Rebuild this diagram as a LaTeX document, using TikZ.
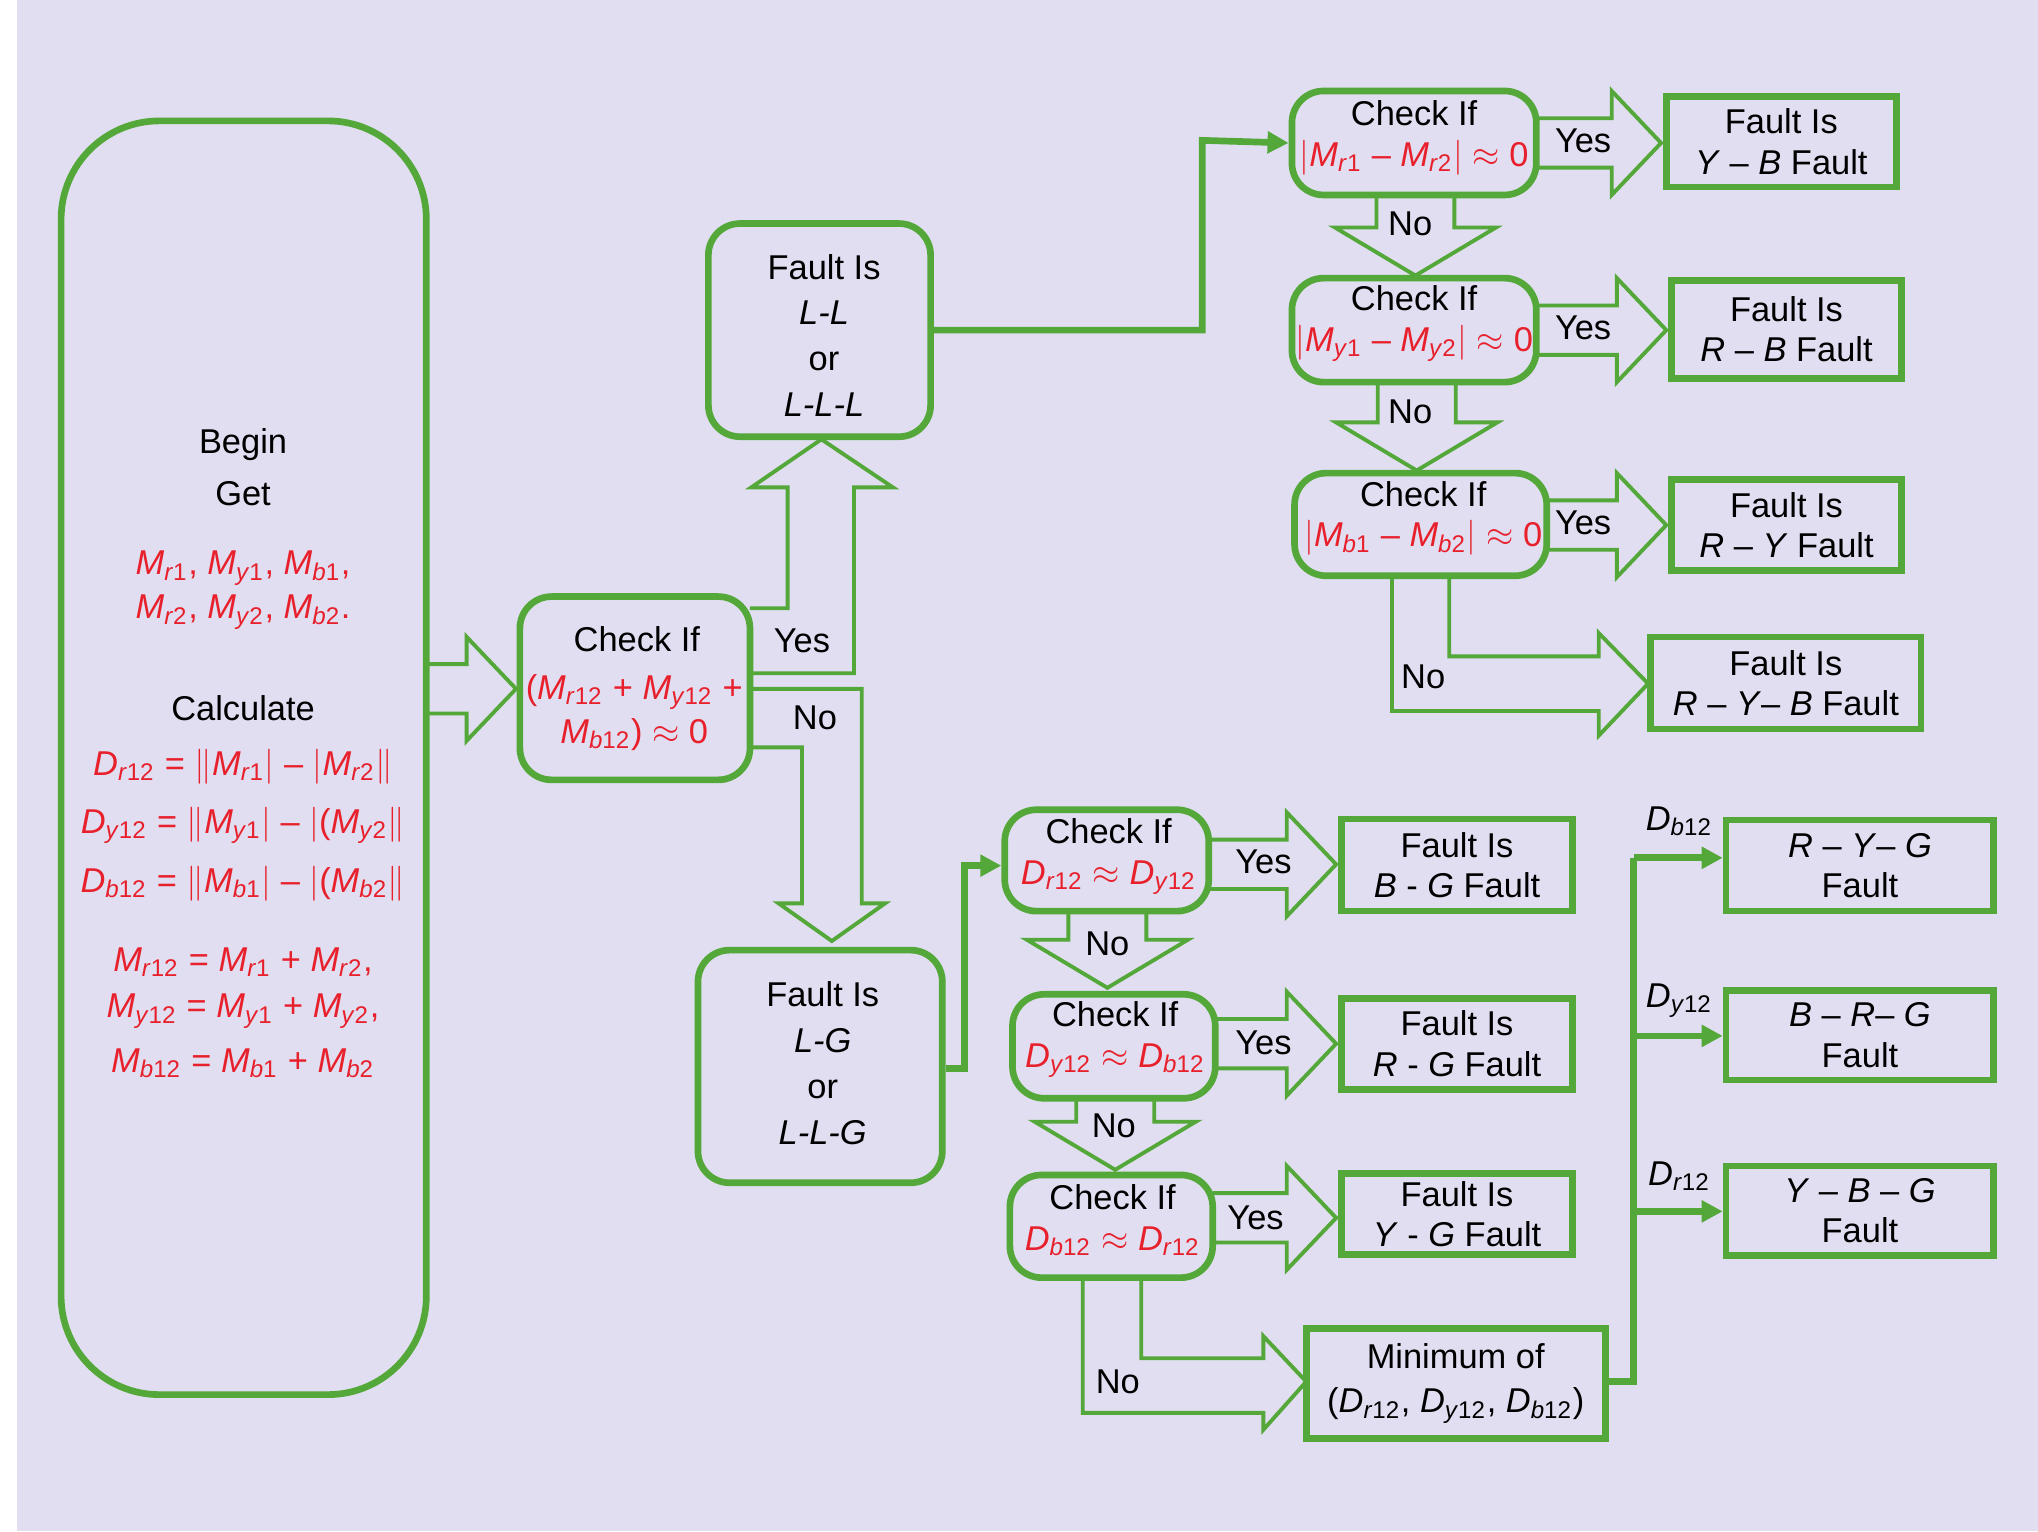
\documentclass[tikz,border=0pt]{standalone}
\usepackage{fontspec}
\setmainfont{Liberation Sans}
\usetikzlibrary{arrows.meta}

\definecolor{bgl}{RGB}{224,222,240}
\definecolor{grn}{RGB}{84,168,58}
\definecolor{rd}{RGB}{232,32,44}

\newcommand\V[3]{\textit{#1}\textsubscript{\textit{#2}#3}}
\newcommand\R[1]{\textcolor{rd}{#1}}

\tikzset{
  every node/.style={font=\fontsize{9.8}{11.5}\selectfont, inner sep=0pt},
  box/.style={draw=grn, line width=1.9pt, rounded corners=9pt, align=center},
  res/.style={draw=grn, line width=1.9pt, align=center},
  hol/.style={draw=grn, line width=1.1pt, line join=miter},
  con/.style={draw=grn, line width=1.9pt, -{Triangle[length=6pt,width=6pt]}},
}

% hollow arrow to the right: start x, tip x, centre y
\newcommand\yesarrow[3]{\draw[hol] (#1,#3-19) -- (#2-38,#3-19) -- (#2-38,#3-40) -- (#2,#3)
  -- (#2-38,#3+40) -- (#2-38,#3+19) -- (#1,#3+19);}
% hollow arrow downwards: centre x, start y, tip y
\newcommand\noarrow[3]{\draw[hol] (#1-30,#2) -- (#1-30,#3-37) -- (#1-62,#3-37) -- (#1,#3)
  -- (#1+62,#3-37) -- (#1+30,#3-37) -- (#1+30,#2);}

\begin{document}
\begin{tikzpicture}[x=0.013cm, y=-0.013cm]

    % background
    \fill[white] (0,0) rectangle (1568,1178);
    \fill[bgl] (13,0) rectangle (1568,1178);

    % left column
    \node[box, rounded corners=28pt, minimum width=281*0.013cm, minimum height=980*0.013cm] (start) at (187.5,583) {};
    \node at (187,342) {Begin};
    \node at (187,380) {Get};
    \node[align=center, text=rd] at (187,454) {\V{M}{r}{1}, \V{M}{y}{1}, \V{M}{b}{1},\\[1pt] \V{M}{r}{2}, \V{M}{y}{2}, \V{M}{b}{2}.};
    \node at (187,545) {Calculate};
    \node[text=rd] at (187,590) {\V{D}{r}{12} = $\|$\V{M}{r}{1}$|$ -- $|$\V{M}{r}{2}$\|$};
    \node[text=rd] at (187,635) {\V{D}{y}{12} = $\|$\V{M}{y}{1}$|$ -- $|$(\V{M}{y}{2}$\|$};
    \node[text=rd] at (187,680) {\V{D}{b}{12} = $\|$\V{M}{b}{1}$|$ -- $|$(\V{M}{b}{2}$\|$};
    \node[text=rd] at (187,740) {\V{M}{r}{12} = \V{M}{r}{1} + \V{M}{r}{2},};
    \node[text=rd] at (187,778) {\V{M}{y}{12} = \V{M}{y}{1} + \V{M}{y}{2},};
    \node[text=rd] at (187,818) {\V{M}{b}{12} = \V{M}{b}{1} + \V{M}{b}{2}};

    \yesarrow{330}{397}{530}

    % first check
    \node[box, minimum width=177*0.013cm, minimum height=141*0.013cm] (chk) at (488.5,529.5) {};
    \node at (490,492) {Check If};
    \node[align=center, text=rd] at (488,548) {(\V{M}{r}{12} + \V{M}{y}{12} +\\[1pt] \V{M}{b}{12}) $\approx$ 0};

    \node[box, minimum width=171*0.013cm, minimum height=164*0.013cm] (ll) at (630.5,254) {};
    \node[align=center] at (634,258) {Fault Is\\[1.5pt] \textit{L-L}\\[1.5pt] or\\[1.5pt] \textit{L-L-L}};
    \node[box, minimum width=188*0.013cm, minimum height=179*0.013cm] (lg) at (631,820.5) {};
    \node[align=center] at (633,818) {Fault Is\\[1.5pt] \textit{L-G}\\[1.5pt] or\\[1.5pt] \textit{L-L-G}};

    \draw[hol] (577,468) -- (606,468) -- (606,375) -- (578,375) -- (632,338) -- (687,375)
      -- (657,375) -- (657,518) -- (577,518);
    \node at (617,493) {Yes};
    \draw[hol] (577,530) -- (663,530) -- (663,695) -- (681,695) -- (640,724) -- (599,695)
      -- (617,695) -- (617,575) -- (577,575);
    \node at (627,552) {No};

    % L-L branch
    \node[box, minimum width=188*0.013cm, minimum height=80*0.013cm] (ca) at (1088,110) {};
    \node[align=center] at (1088,106) {Check If\\ \R{$|$\V{M}{r}{1} -- \V{M}{r}{2}$|$ $\approx$ 0}};
    \node[box, minimum width=188*0.013cm, minimum height=80*0.013cm] (cb) at (1088,254) {};
    \node[align=center] at (1088,249) {Check If\\ \R{$|$\V{M}{y}{1} -- \V{M}{y}{2}$|$ $\approx$ 0}};
    \node[box, minimum width=194*0.013cm, minimum height=79*0.013cm] (cc) at (1093,403.5) {};
    \node[align=center] at (1095,399) {Check If\\ \R{$|$\V{M}{b}{1} -- \V{M}{b}{2}$|$ $\approx$ 0}};
    \draw[con] (ll.east) -- (925,254) -- (925,108) -- (ca.west);

    \node[res, minimum width=177*0.013cm, minimum height=70*0.013cm] (yb) at (1370.5,109) {Fault Is\\ \textit{Y} -- \textit{B} Fault};
    \node[res, minimum width=177*0.013cm, minimum height=75*0.013cm] (rb) at (1374.5,253.5) {Fault Is\\ \textit{R} -- \textit{B} Fault};
    \node[res, minimum width=177*0.013cm, minimum height=70*0.013cm] (ry) at (1374.5,404) {Fault Is\\ \textit{R} -- \textit{Y} Fault};
    \node[res, minimum width=208*0.013cm, minimum height=71*0.013cm] (ryb) at (1374,525.5) {Fault Is\\ \textit{R} -- \textit{Y}-- \textit{B} Fault};

    \yesarrow{1183}{1278}{110}   \node at (1218,108) {Yes};
    \yesarrow{1183}{1282}{254}   \node at (1218,252) {Yes};
    \yesarrow{1191}{1282}{404}   \node at (1218,402) {Yes};
    \noarrow{1089}{150}{212}     \node at (1085,172) {No};
    \noarrow{1090}{294}{362}     \node at (1085,317) {No};
    \draw[hol] (1071,443) -- (1071,547) -- (1230,547) -- (1230,566) -- (1268,526) -- (1230,487)
      -- (1230,505) -- (1115,505) -- (1115,443);
    \node at (1095,521) {No};

    % L-G branch
    \node[box, minimum width=157*0.013cm, minimum height=78*0.013cm] (cd) at (851.5,662) {};
    \node[align=center] at (853,659) {Check If\\ \R{\V{D}{r}{12} $\approx$ \V{D}{y}{12}}};
    \node[box, minimum width=156*0.013cm, minimum height=80*0.013cm] (ce) at (857,805) {};
    \node[align=center] at (858,800) {Check If\\ \R{\V{D}{y}{12} $\approx$ \V{D}{b}{12}}};
    \node[box, minimum width=156*0.013cm, minimum height=79*0.013cm] (cf) at (855,943.5) {};
    \node[align=center] at (856,939) {Check If\\ \R{\V{D}{b}{12} $\approx$ \V{D}{r}{12}}};
    \draw[con] (lg.east|-0,822) -- (742,822) -- (742,666) -- (cd.west|-0,666);

    \node[res, minimum width=178*0.013cm, minimum height=71*0.013cm] (bg) at (1121,665.5) {Fault Is\\ \textit{B} - \textit{G} Fault};
    \node[res, minimum width=178*0.013cm, minimum height=70*0.013cm] (rg) at (1121,803) {Fault Is\\ \textit{R} - \textit{G} Fault};
    \node[res, minimum width=178*0.013cm, minimum height=62*0.013cm] (yg) at (1121,934) {Fault Is\\ \textit{Y} - \textit{G} Fault};
    \node[res, minimum width=230*0.013cm, minimum height=85*0.013cm] (mn) at (1120,1064.5) {Minimum of\\[1pt] (\V{D}{r}{12}, \V{D}{y}{12}, \V{D}{b}{12})};

    \yesarrow{930}{1028}{665}    \node at (972,663) {Yes};
    \yesarrow{935}{1028}{803}    \node at (972,802) {Yes};
    \yesarrow{933}{1028}{937}    \node at (966,937) {Yes};
    \noarrow{852}{701}{760}      \node at (852,726) {No};
    \noarrow{858}{845}{900}      \node at (857,866) {No};
    \draw[hol] (833,983) -- (833,1087) -- (972,1087) -- (972,1100) -- (1005,1063) -- (972,1028)
      -- (972,1045) -- (878,1045) -- (878,983);
    \node at (860,1063) {No};

    % minimum selection
    \node[res, minimum width=206*0.013cm, minimum height=70*0.013cm] (ryg) at (1431,666) {\textit{R} -- \textit{Y}-- \textit{G}\\ Fault};
    \node[res, minimum width=206*0.013cm, minimum height=69*0.013cm] (brg) at (1431,796.5) {\textit{B} -- \textit{R}-- \textit{G}\\ Fault};
    \node[res, minimum width=206*0.013cm, minimum height=69*0.013cm] (ybg) at (1431,931.5) {\textit{Y} -- \textit{B} -- \textit{G}\\ Fault};
    \coordinate (sp) at (1257,1063);
    \draw[grn, line width=1.9pt] (mn.east|-sp) -- (sp) -- (1257,660);
    \draw[con] (1257,660) -- (ryg.west|-0,660);
    \draw[con] (1257,797) -- (brg.west|-0,797);
    \draw[con] (1257,932) -- (ybg.west|-0,932);
    \node at (1292,632) {\V{D}{b}{12}};
    \node at (1292,770) {\V{D}{y}{12}};
    \node at (1292,905) {\V{D}{r}{12}};

\end{tikzpicture}
\end{document}
